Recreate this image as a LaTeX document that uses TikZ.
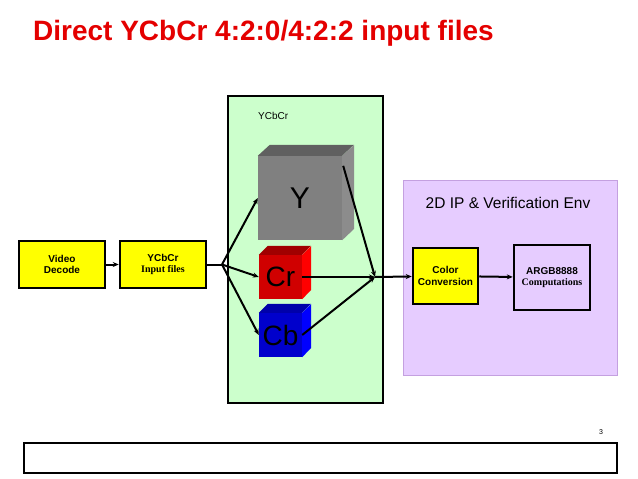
\documentclass[tikz,border=0pt]{standalone}
\usepackage{fontspec}
\setmainfont{Liberation Sans}
\newfontfamily\serfont{Liberation Serif}
\usetikzlibrary{arrows,arrows.meta}
\usetikzlibrary{calc}
\definecolor{titel}{RGB}{228,0,0}
\definecolor{gruen}{RGB}{204,255,204}
\definecolor{lila}{RGB}{230,204,255}
\definecolor{lilarand}{RGB}{196,160,224}
\definecolor{gelb}{RGB}{255,255,0}
\definecolor{grauV}{RGB}{128,128,128}
\definecolor{grauO}{RGB}{96,96,96}
\definecolor{grauS}{RGB}{140,140,140}
\definecolor{rotV}{RGB}{208,0,0}
\definecolor{rotO}{RGB}{160,0,0}
\definecolor{rotS}{RGB}{255,0,0}
\definecolor{blauV}{RGB}{0,0,204}
\definecolor{blauO}{RGB}{0,0,170}
\definecolor{blauS}{RGB}{0,0,255}
\tikzset{
	kasten/.style={draw, line width=2.5pt, inner sep=0pt, align=center, font=\bfseries\fontsize{10}{11.5}\selectfont},
	flaeche/.style={inner sep=0pt, text=black},
	verbindung/.style={line width=2pt, -{Stealth[length=6pt,width=5pt]}}
}

\begin{document}
\begin{tikzpicture}[x=1pt,y=-1pt]
		\useasboundingbox (0,0) rectangle (638,479);
		\node[titel, anchor=base west, inner sep=0pt, font=\bfseries\fontsize{28}{32}\selectfont] (T) at (33,41) {Direct YCbCr 4:2:0/4:2:2 input files};
		
		% Bereiche
		\draw[fill=gruen, line width=1.5pt] (228,96) rectangle (383,403);
		\node[anchor=west, inner sep=0pt, font=\fontsize{10}{11}\selectfont] (G) at (258,116) {YCbCr};
		\draw[fill=lila, draw=lilarand, line width=0.8pt] (403,180) rectangle (617,375);
		\node[inner sep=0pt, font=\fontsize{15.5}{17}\selectfont] (E) at (508,203) {2D IP \& Verification Env};
		
		\node[kasten, fill=gelb, minimum width=86pt, minimum height=47pt] (VD) at (62,264.5) {Video\\Decode};
		\node[kasten, fill=gelb, minimum width=86pt, minimum height=47pt] (YC) at (163,264.5) {YCbCr\\{\serfont Input files}};
		\coordinate (S) at (222,264.5);
		
		% Wuerfel
		\node[flaeche, fill=grauV, minimum width=84pt, minimum height=84pt, font=\fontsize{30}{32}\selectfont] (Y) at (300,198) {Y};
		\fill[grauO] (Y.north west) -- ++(12,-11) -- ++(84,0) -- (Y.north east) -- cycle;
		\fill[grauS] (Y.north east) -- ++(12,-11) -- ++(0,84) -- (Y.south east) -- cycle;
		\node[flaeche, fill=rotV, minimum width=43pt, minimum height=44pt, font=\fontsize{28}{30}\selectfont] (Cr) at (280.5,277) {Cr};
		\fill[rotO] (Cr.north west) -- ++(9,-9) -- ++(43,0) -- (Cr.north east) -- cycle;
		\fill[rotS] (Cr.north east) -- ++(9,-9) -- ++(0,44) -- (Cr.south east) -- cycle;
		\node[flaeche, fill=blauV, minimum width=43pt, minimum height=44pt, font=\fontsize{28}{30}\selectfont] (Cb) at (280.5,335) {Cb};
		\fill[blauO] (Cb.north west) -- ++(9,-9) -- ++(43,0) -- (Cb.north east) -- cycle;
		\fill[blauS] (Cb.north east) -- ++(9,-9) -- ++(0,44) -- (Cb.south east) -- cycle;
		\coordinate (M) at (375,277);
		
		\node[kasten, fill=gelb, minimum width=65pt, minimum height=56pt] (CC) at (445.5,276) {Color\\Conversion};
		\node[kasten, fill=lila, minimum width=76pt, minimum height=65pt] (AR) at (552,277.5) {ARGB8888\\{\serfont Computations}};
		
		\draw[verbindung] (VD) -- (YC);
		\draw[line width=2pt] (YC) -- (S);
		\draw[verbindung] (S) -- (Y.west);
		\draw[verbindung] (S) -- (Cr.west);
		\draw[verbindung] (S) -- (Cb.west);
		\draw[verbindung] ([shift={(1,10)}]Y.north east) -- (M);
		\draw[verbindung] (Cr.east) -- (M);
		\draw[verbindung] (Cb.east) -- (M);
		\draw[verbindung] (M) -- (CC);
		\draw[verbindung] (CC) -- (AR);
		
		% Fusszeile
		\node[inner sep=0pt, font=\fontsize{7}{8}\selectfont] (N) at (601,432) {3};
		\draw[line width=1.2pt] (24,443) rectangle (617,473);
\end{tikzpicture}
\end{document}
